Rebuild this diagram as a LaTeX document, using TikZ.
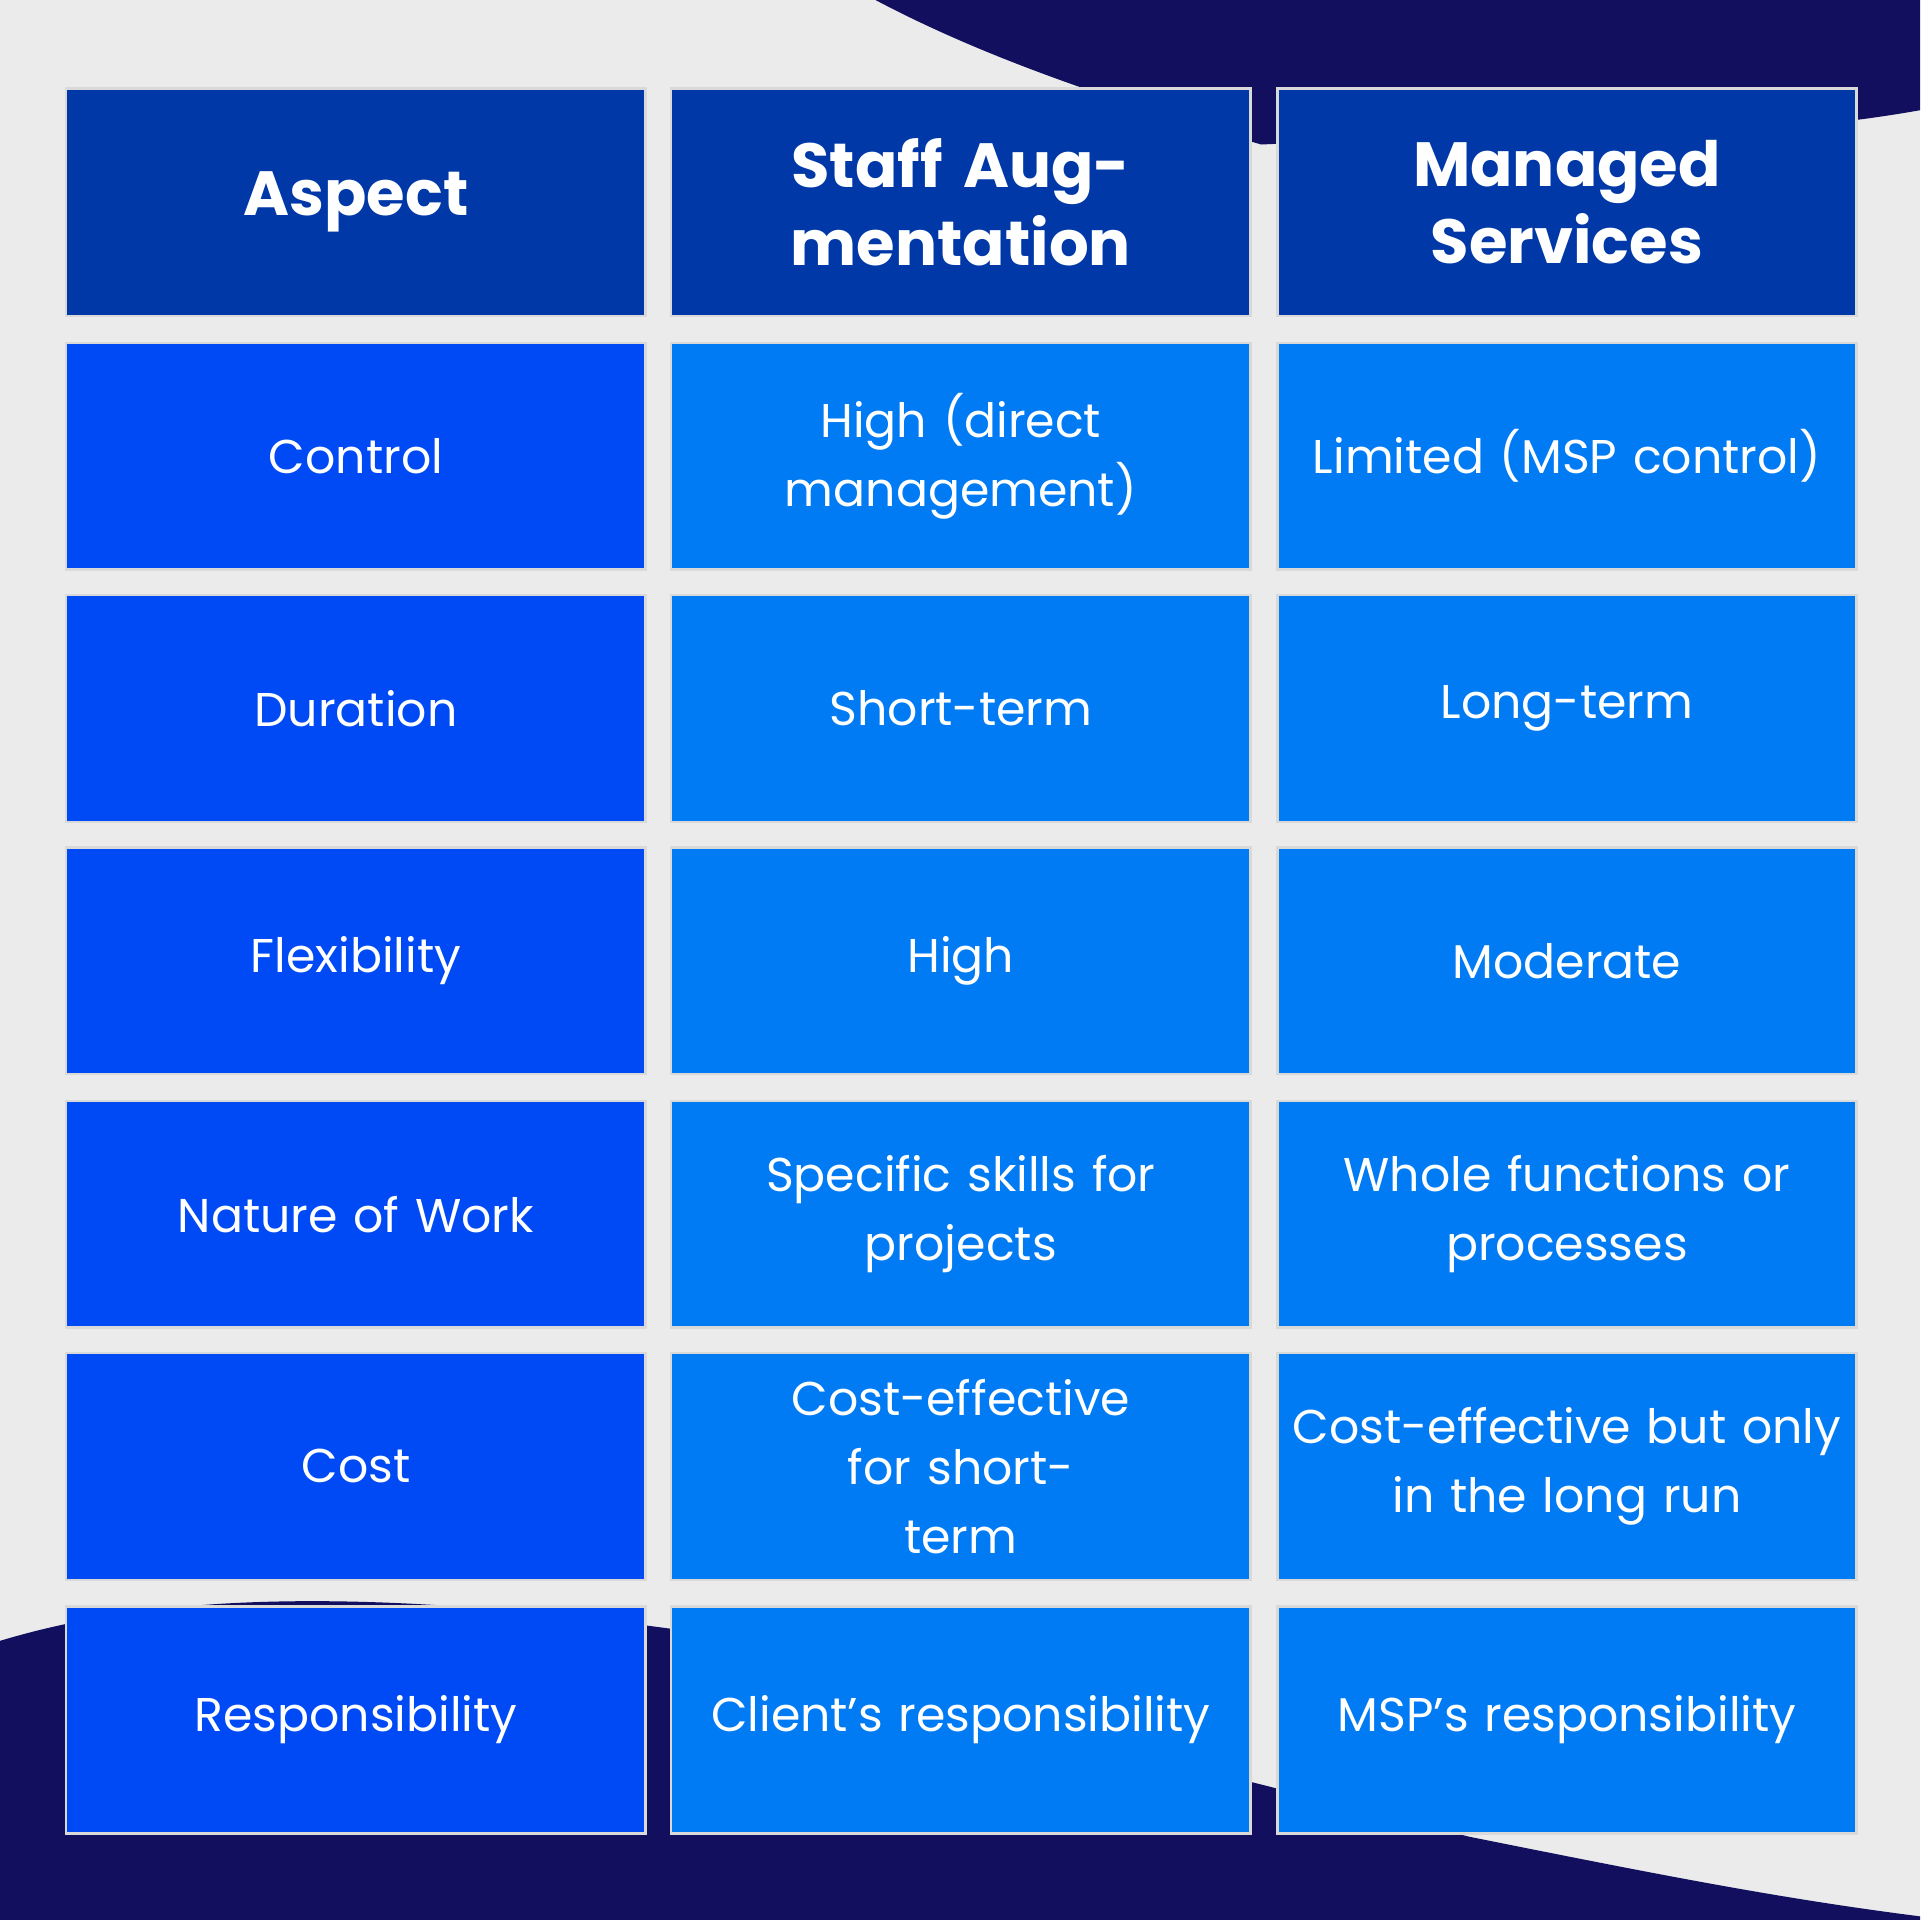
\documentclass[tikz,border=0pt]{standalone}
\usepackage{fontspec}
\setmainfont{Poppins}
\begin{document}
\begin{tikzpicture}[x=0.01cm,y=-0.01cm,
  cellb/.style={draw=black!15,line width=0.6pt,minimum width=473\pgflinewidth,anchor=north west,inner sep=0pt,text=white,align=center,font=\fontsize{11}{16}\selectfont},
  hd/.style={cellb,fill=hdc,font=\fontsize{14.5}{18}\selectfont\bfseries},
  c1/.style={cellb,fill=aspc},
  cv/.style={cellb,fill=valc}]
\definecolor{bgc}{HTML}{EBEBEC}
\definecolor{navy}{HTML}{12105E}
\definecolor{hdc}{HTML}{0038A8}
\definecolor{aspc}{HTML}{004AF6}
\definecolor{valc}{HTML}{007BF4}
\fill[bgc] (0,0) rectangle (1568,1568);
\useasboundingbox (0,0) rectangle (1568,1568);
\fill[navy] (715,0) .. controls (800,45) and (900,80) .. (1030,118) .. controls (1200,110) and (1400,120) .. (1568,90) -- (1568,0) -- cycle;
\fill[navy] (0,1340) .. controls (100,1310) and (250,1290) .. (547,1330) .. controls (800,1400) and (1000,1450) .. (1200,1500) .. controls (1350,1530) and (1450,1550) .. (1568,1565) -- (1568,1568) -- (0,1568) -- cycle;
\def\colx{{53,547,1042}}
\def\rowy{{71,279,485,691,898,1104,1311}}
\foreach \n/\t [count=\i from 0] in {a/Aspect,b/Staff Augmentation,c/Managed Services}{
  \pgfmathsetmacro\xx{\colx[\i]}
  \node[hd,minimum width=4.73cm,minimum height=1.86cm,text width=4.6cm] (h\n) at (\xx,71) {\t};
}
\foreach \r/\a/\b/\c [count=\j from 1] in {
 1/Control/{High (direct\\management)}/{Limited (MSP control)},
 2/Duration/Short-term/Long-term,
 3/Flexibility/High/Moderate,
 4/Nature of Work/{Specific skills for\\projects}/{Whole functions or\\processes},
 5/Cost/{Cost-effective for short-\\term}/{Cost-effective but only\\in the long run},
 6/Responsibility/{Client's responsibility}/{MSP's responsibility}}{
  \pgfmathsetmacro\yy{\rowy[\j]}
  \node[c1,minimum width=4.73cm,minimum height=1.85cm,text width=4.6cm] (r\r a) at (53,\yy) {\a};
  \node[cv,minimum width=4.73cm,minimum height=1.85cm,text width=4.6cm] (r\r b) at (547,\yy) {\b};
  \node[cv,minimum width=4.73cm,minimum height=1.85cm,text width=4.6cm] (r\r c) at (1042,\yy) {\c};
}
\end{tikzpicture}
\end{document}
